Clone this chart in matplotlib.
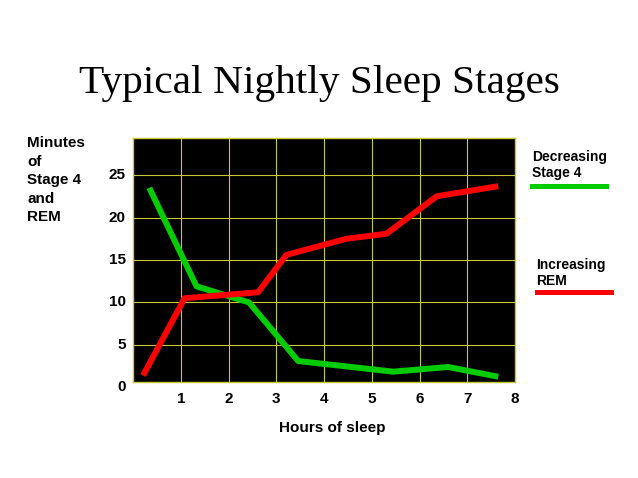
import matplotlib
matplotlib.use("Agg")
import matplotlib.pyplot as plt

# values
stage4_hours = [0.34, 1.33, 2.43, 3.46, 5.45, 6.6, 7.65]
stage4_mins = [23.5, 11.9, 10.0, 3.1, 1.85, 2.4, 1.25]

rem_hours = [0.21, 1.08, 2.62, 3.21, 4.47, 5.31, 6.36, 7.65]
rem_mins = [1.4, 10.5, 11.2, 15.6, 17.5, 18.1, 22.5, 23.7]

x_ticks = [1, 2, 3, 4, 5, 6, 7, 8]
y_ticks = [0, 5, 10, 15, 20, 25]

green = '#00cc00'
red = '#ff0000'
grid_col = '#c8c832'

fig = plt.figure(figsize=(6.38, 4.78), dpi=100)
ax = fig.add_axes([0.2085, 0.2008, 0.5987, 0.5105])
ax.set_facecolor('black')

for v in x_ticks[:-1]:
    ax.axvline(v, color=grid_col, lw=0.8)
for v in y_ticks[1:]:
    ax.axhline(v, color=grid_col, lw=0.8)

ax.plot(stage4_hours, stage4_mins, color=green, lw=4.3, solid_capstyle='butt')
ax.plot(rem_hours, rem_mins, color=red, lw=4.3, solid_capstyle='butt')

ax.set_xlim(0, 8)
ax.set_ylim(0.63, 29.37)
for s in ax.spines.values():
    s.set_color(grid_col)
    s.set_linewidth(1.0)

ax.set_xticks(x_ticks)
ax.set_xticklabels([str(t) for t in x_ticks], fontsize=11, fontweight='bold',
                   family='Liberation Sans')
ax.tick_params(axis='x', length=0, pad=7)
ax.set_yticks([])
# y labels as text, the 0 sits just under the plot's bottom edge
for t in y_ticks:
    ax.text(-0.15, t, str(t), ha='right', va='center', fontsize=11,
            fontweight='bold', family='Liberation Sans', clip_on=False)

fig.text(0.5, 0.825, 'Typical Nightly Sleep Stages', ha='center', va='center',
         fontsize=29.8, family='Liberation Serif')
fig.text(27/638, 1 - 136/478, 'Minutes\nof\nStage 4\nand\nREM', ha='left', va='top',
         fontsize=11, fontweight='bold', family='Liberation Sans', linespacing=1.42)
fig.text(332/638, 1 - 428/478, 'Hours of sleep', ha='center', va='center',
         fontsize=11, fontweight='bold', family='Liberation Sans')

fig.text(532/638, 1 - 150/478, 'Decreasing\nStage 4', ha='left', va='top',
         fontsize=10, fontweight='bold', family='Liberation Sans', linespacing=1.2)
fig.add_artist(plt.Line2D([532/638, 606/638], [1 - 186/478, 1 - 186/478],
                          color=green, lw=3.6))
fig.text(536/638, 1 - 258/478, 'Increasing\nREM', ha='left', va='top',
         fontsize=10, fontweight='bold', family='Liberation Sans', linespacing=1.2)
fig.add_artist(plt.Line2D([537/638, 611/638], [1 - 292/478, 1 - 292/478],
                          color=red, lw=3.6))

fig.savefig('out.png', dpi=100)
